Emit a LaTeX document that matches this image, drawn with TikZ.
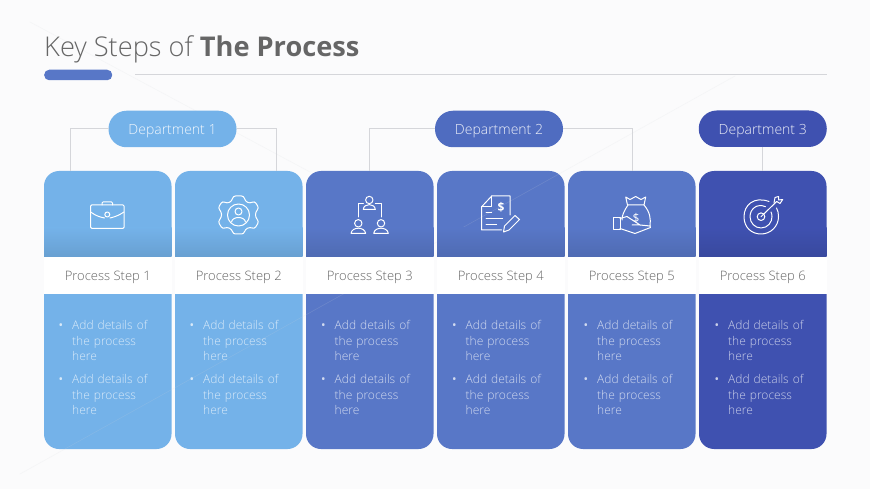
\documentclass[tikz,border=0pt]{standalone}
\usepackage{fontspec}
\usepackage{xcolor}
\usepackage{tikz}
\usetikzlibrary{positioning}
\setmainfont{Open Sans Light}
\newfontfamily\boldfont{Open Sans}[BoldFont={Open Sans Bold}]
\definecolor{azulCielo}{HTML}{74B2E9}
\definecolor{azulMedio}{HTML}{5877C7}
\definecolor{azulDept}{HTML}{4F6CC0}
\definecolor{azulOscuro}{HTML}{3F51B0}
\definecolor{grisLinea}{HTML}{D5D6DA}
\definecolor{grisTexto}{HTML}{666666}
\definecolor{fondo}{HTML}{FBFBFC}
\newcommand{\addDetails}{\leavevmode\llap{{\boldfont\textbullet}\hspace{9pt}}Add details of\\the process\\here\\[7.5pt]\leavevmode\llap{{\boldfont\textbullet}\hspace{9pt}}Add details of\\the process\\here}

\begin{document}
\begin{tikzpicture}[
    x=1pt, y=-1pt,
    node distance=3.5pt,
    card/.style={rectangle, fill=#1, rounded corners=15pt, minimum width=127.5pt, minimum height=278pt, inner sep=0pt, outer sep=0pt},
    stepband/.style={rectangle, fill=white, minimum width=127.5pt, minimum height=38pt, inner sep=0pt, outer sep=0pt, text height=11pt, text depth=0pt, font=\fontsize{13}{15}\selectfont, text=grisTexto},
    fadebar/.style={rectangle, top color=#1, bottom color=#1!90!black, minimum width=127.5pt, minimum height=28pt, inner sep=0pt, outer sep=0pt},
    dept/.style={rectangle, fill=#1, rounded corners=18pt, minimum width=128pt, minimum height=36.5pt, inner sep=0pt, outer sep=0pt, text height=12pt, text depth=0pt, text=white!90!#1, font=\fontsize{14}{16}\selectfont},
    detail/.style={text=white, text opacity=0.72, text width=86pt, align=left, inner sep=0pt, font=\fontsize{12}{15.5}\selectfont},
    enlace/.style={draw=grisLinea, line width=1pt},
    veta/.style={draw=grisLinea, line width=0.6pt, opacity=0.16},
    icono/.style={draw=white, line width=1pt, line join=round, line cap=round, fill=none}
]
    \useasboundingbox (0,0) rectangle (870,489);
    \fill[fondo] (0,0) rectangle (870,489);

    % faint background lines
    \coordinate (vetaA) at (30,22);
    \coordinate (vetaB) at (310,172);
    \draw[veta] (vetaA) -- (vetaB);

    % title
    \node[anchor=base west, inner sep=0pt, text=grisTexto, font=\fontsize{27.2}{32}\selectfont] (title) at (44,57) {Key Steps of {\boldfont\bfseries The Process}};
    \node[rectangle, fill=azulMedio, rounded corners=5pt, minimum width=68pt, minimum height=10.5pt, inner sep=0pt, anchor=west] (titlebar) at (44,75) {};
    \coordinate (ruleA) at (135,75);
    \coordinate (ruleB) at (827,75);
    \draw[enlace] (ruleA) -- (ruleB);

    % cards
    \node[card=azulCielo, anchor=north west] (c1) at (44,171) {};
    \node[card=azulCielo, right=of c1] (c2) {};
    \node[card=azulMedio, right=of c2] (c3) {};
    \node[card=azulMedio, right=of c3] (c4) {};
    \node[card=azulMedio, right=of c4] (c5) {};
    \node[card=azulOscuro, right=of c5] (c6) {};

    \coordinate (vetaC) at (20,474);
    \coordinate (vetaD) at (735,76);
    \draw[veta] (vetaC) -- (vetaD);

    % white bands
    \node[stepband, below=85pt of c1.north] (s1) {Process Step 1};
    \node[stepband, below=85pt of c2.north] (s2) {Process Step 2};
    \node[stepband, below=85pt of c3.north] (s3) {Process Step 3};
    \node[stepband, below=85pt of c4.north] (s4) {Process Step 4};
    \node[stepband, below=85pt of c5.north] (s5) {Process Step 5};
    \node[stepband, below=85pt of c6.north] (s6) {Process Step 6};

    \node[fadebar=azulCielo, above=0pt of s1] (f1) {};
    \node[fadebar=azulCielo, above=0pt of s2] (f2) {};
    \node[fadebar=azulMedio, above=0pt of s3] (f3) {};
    \node[fadebar=azulMedio, above=0pt of s4] (f4) {};
    \node[fadebar=azulMedio, above=0pt of s5] (f5) {};
    \node[fadebar=azulOscuro, above=0pt of s6] (f6) {};

    % details
    \node[detail, anchor=north west] (d1) at (72,320.5) {\addDetails};
    \node[detail, anchor=north west] (d2) at (203,320.5) {\addDetails};
    \node[detail, anchor=north west] (d3) at (334.5,320.5) {\addDetails};
    \node[detail, anchor=north west] (d4) at (465.5,320.5) {\addDetails};
    \node[detail, anchor=north west] (d5) at (597,320.5) {\addDetails};
    \node[detail, anchor=north west] (d6) at (728,320.5) {\addDetails};

    % departments
    \node[dept=azulCielo] (dep1) at (172.5,129) {Department 1};
    \node[dept=azulDept] (dep2) at (499,129) {Department 2};
    \node[dept=azulOscuro, above=24pt of c6] (dep3) {Department 3};

    \coordinate (t1) at (70,171);
    \coordinate (t2) at (276,171);
    \coordinate (t3) at (369,171);
    \coordinate (t5) at (632,171);
    \draw[enlace] (dep1.west) -| (t1);
    \draw[enlace] (dep1.east) -| (t2);
    \draw[enlace] (dep2.west) -| (t3);
    \draw[enlace] (dep2.east) -| (t5);
    \draw[enlace] (dep3.south) -- (c6.north);

    % briefcase
    \draw[icono, rounded corners=1pt] (90.7,205) rectangle (124,228.3);
    \draw[icono, rounded corners=1pt] (102,205) -- (102,202) -- (112.5,202) -- (112.5,205);
    \draw[icono] (90.7,212) .. controls (96,216) and (100,217) .. (104.5,218);
    \draw[icono] (124,212) .. controls (118,216) and (114,217) .. (110,218);
    \draw[icono] (107.3,214.5) circle[radius=2.5pt];

    % gear
    \draw[icono, rounded corners=2.5pt] (233,196) -- (244,196) -- (245,201) -- (250,203.5) -- (254.5,201) -- (259,208) -- (255.5,212) -- (255.5,217.5) -- (259,221.5) -- (254.5,229) -- (250,227) -- (245,229.5) -- (244,234) -- (233,234) -- (232,229.5) -- (227,227) -- (222.5,229) -- (218,221.5) -- (221.5,217.5) -- (221.5,212) -- (218,208) -- (222.5,201) -- (227,203.5) -- (232,201) -- cycle;
    \draw[icono] (238.5,215) circle[radius=11pt];
    \draw[icono] (238.5,211.5) circle[radius=3.5pt];
    \draw[icono] (231.5,222) .. controls (232.5,216) and (244.5,216) .. (245.5,222);

    % org chart
    \draw[icono] (369.3,200) circle[radius=3.7pt];
    \draw[icono] (363.3,209.5) .. controls (363.5,203) and (375,203) .. (375.3,209.5) -- cycle;
    \draw[icono] (358.3,223.3) circle[radius=3.7pt];
    \draw[icono] (351,233.3) .. controls (352,226.5) and (364.5,226.5) .. (365.7,233.3) -- cycle;
    \draw[icono] (381,223.3) circle[radius=3.7pt];
    \draw[icono] (373.7,233.3) .. controls (374.7,226.5) and (387.3,226.5) .. (388.3,233.3) -- cycle;
    \draw[icono] (363.3,204) -- (358.3,204) -- (358.3,217);
    \draw[icono] (375.3,204) -- (381,204) -- (381,217);

    % invoice
    \draw[icono] (510,215) -- (510,196) -- (491.7,196) -- (481.7,206.7) -- (481.7,230) -- (501.7,230);
    \draw[icono] (491.7,196) -- (491.7,206.7) -- (481.7,206.7);
    \node[inner sep=0pt, text=white, font=\boldfont\bfseries\fontsize{12}{12}\selectfont] (dollarA) at (501,207) {\$};
    \draw[icono] (486,212.3) -- (491.7,212.3);
    \draw[icono] (486,219) -- (502.7,219);
    \draw[icono] (486,225) -- (496.7,225);
    \draw[icono] (503.5,232) -- (504.5,226) -- (515,215.5) -- (519.5,219.5) -- (509,230) -- cycle;

    % money bag
    \draw[icono] (625.7,197) -- (630,199.5) -- (635.7,196.5) -- (641,199.5) -- (645.7,197) -- (644,205) -- (627.5,205) -- cycle;
    \draw[icono] (628,205) .. controls (624,211) and (622,215) .. (622,220);
    \draw[icono] (644,205) .. controls (650,212) and (651,219) .. (650,226);
    \node[inner sep=0pt, text=white, font=\boldfont\fontsize{12}{12}\selectfont] (dollarB) at (636,218) {\$};
    \draw[icono] (613.3,217.5) rectangle (620,230);
    \draw[icono] (620,218.5) -- (627,216.5) .. controls (632,220) and (636,222) .. (640,225) -- (632,225);
    \draw[icono] (640,225) -- (650,226) -- (650.5,227.5) -- (635,233.5) -- (620,228.5);

    % target
    \draw[icono] (769,201.5) .. controls (754,196) and (744,205) .. (744,216.7) .. controls (744,228) and (752,234) .. (761,234) .. controls (771,234) and (778.5,226) .. (778.5,216.7) .. controls (778.5,213) and (778,211) .. (776.5,208);
    \draw[icono] (765.5,206.7) .. controls (757,203) and (750,209) .. (750,216.7) .. controls (750,223) and (755,228) .. (761,228) .. controls (768,228) and (772,222) .. (772,216.7) .. controls (772,214.5) and (771.5,213) .. (771,212);
    \draw[icono] (761,216.7) circle[radius=3.8pt];
    \draw[icono] (761,216.7) -- (776.7,201.5);
    \draw[icono] (774,203) -- (775,197.5) -- (778.5,196.5) -- (778.5,200) -- (782.7,199.5) -- (780,203.5) -- (776.7,201.5);
\end{tikzpicture}
\end{document}
